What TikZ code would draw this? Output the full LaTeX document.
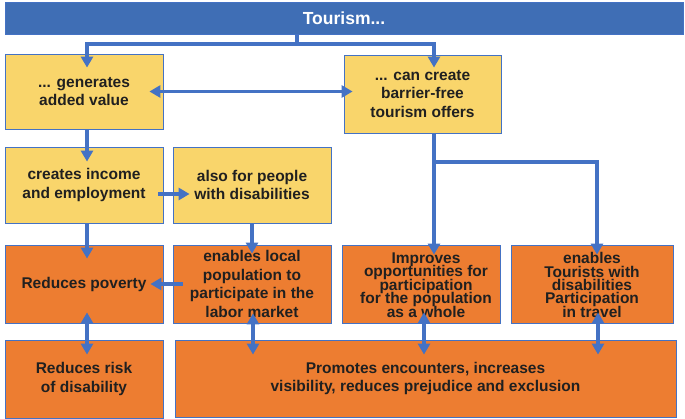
\documentclass[tikz,border=0pt]{standalone}
\usepackage{fontspec}
\setmainfont{Liberation Sans}
\usetikzlibrary{arrows.meta}
\definecolor{cTitle}{HTML}{3F6EB5}
\definecolor{cLine}{HTML}{4472C4}
\definecolor{cYellow}{HTML}{F9D56B}
\definecolor{cOrange}{HTML}{ED7D31}
\definecolor{cText}{HTML}{202020}
\newcommand\mytightlines{\lineskiplimit=-20pt\relax\lineskip=0pt\relax}
\begin{document}
\begin{tikzpicture}[x=1pt,y=-1pt,
  box/.style={draw=cLine,line width=0.8pt,inner sep=0pt,align=center,text=cText,
    font=\bfseries\fontsize{15.5}{18.5}\selectfont},
  yellowbox/.style={box,fill=cYellow},
  orangebox/.style={box,fill=cOrange},
  tighttext/.style={inner sep=0pt,align=center,text=cText,
    font=\bfseries\fontsize{15.5}{13.4}\selectfont\mytightlines},
  conn/.style={draw=cLine,line width=3.2pt},
  arr/.style={conn,-{Triangle[length=11pt,width=12pt]}},
  darr/.style={conn,{Triangle[length=11pt,width=12pt]}-{Triangle[length=11pt,width=12pt]}}]
\useasboundingbox (0,0) rectangle (685,419);
% boxes
\node[draw=cLine,line width=0.8pt,fill=cTitle,text=white,minimum width=678pt,minimum height=32pt,inner sep=0pt,
  font=\bfseries\fontsize{17.5}{20}\selectfont] (title) at (344,18) {Tourism...};
\node[yellowbox,minimum width=158pt,minimum height=75pt] (A) at (84,91.5) {... generates\\added value};
\node[yellowbox,minimum width=157pt,minimum height=78pt] (B) at (422.5,94) {... can create\\barrier-free\\tourism offers};
\node[yellowbox,minimum width=158pt,minimum height=76pt] (C) at (84,185) {creates income\\and employment};
\node[yellowbox,minimum width=158pt,minimum height=76pt] (D) at (252,185) {also for people\\with disabilities};
\node[orangebox,minimum width=158pt,minimum height=78pt] (E) at (84,284) {Reduces poverty};
\node[orangebox,minimum width=158pt,minimum height=78pt] (F) at (252,284) {enables local\\population to\\participate in the\\labor market};
\node[orangebox,minimum width=158pt,minimum height=78pt] (G) at (421,284) {};
\node[tighttext] (Gt) at ([xshift=5pt,yshift=-1pt]G.center) {Improves\\opportunities for\\participation\\for the population\\as a whole};
\node[orangebox,minimum width=162pt,minimum height=78pt] (H) at (592,284) {};
\node[tighttext] (Ht) at ([yshift=-1pt]H.center) {enables\\Tourists with\\disabilities\\Participation\\in travel};
\node[orangebox,minimum width=158pt,minimum height=78pt] (I) at (84,379) {Reduces risk\\of disability};
\node[orangebox,minimum width=501pt,minimum height=77pt] (J) at (425.5,378.5) {Promotes encounters, increases\\visibility, reduces prejudice and exclusion};
% helper coordinates
\coordinate (tj) at (297,44);
\coordinate (xa) at (87,0);
\coordinate (xb) at (434,0);
\coordinate (bj) at (434,162);
\coordinate (hj) at (597,162);
\coordinate (xf) at (253,0);
\coordinate (xg) at (424,0);
\coordinate (xh) at (598,0);
% connectors
\draw[conn] (title.south -| tj) -- (tj);
\draw[arr] (tj) -| ([yshift=-14pt]A.north -| xa);
\draw[arr] (tj) -| ([yshift=-13pt]B.north -| xb);
\draw[darr] ([xshift=-14pt]A.east) -- ([xshift=9pt]B.west |- A.east);
\draw[arr] (A.south -| xa) -- ([yshift=-15pt]C.north -| xa);
\draw[arr] ([xshift=-5pt,yshift=-9pt]C.east) -- ([xshift=17pt,yshift=-9pt]D.west);
\draw[arr] (C.south -| xa) -- ([yshift=-14pt]E.north -| xa);
\draw[arr] (D.south) -- ([yshift=-9pt]F.north);
\draw[arr] ([xshift=10pt]F.west) -- ([xshift=-13pt]E.east);
\draw[arr] (B.south -| xb) -- (bj) -- ([yshift=-10pt]G.north -| xb);
\draw[arr] (bj) -- (hj) -- ([yshift=-10pt]H.north -| hj);
\draw[darr] ([yshift=11pt]E.south -| xa) -- ([yshift=-15pt]I.north -| xa);
\draw[darr] ([yshift=10pt]F.south -| xf) -- ([yshift=-15pt]J.north -| xf);
\draw[darr] ([yshift=11pt]G.south -| xg) -- ([yshift=-15pt]J.north -| xg);
\draw[darr] ([yshift=11pt]H.south -| xh) -- ([yshift=-15pt]J.north -| xh);
\end{tikzpicture}
\end{document}
